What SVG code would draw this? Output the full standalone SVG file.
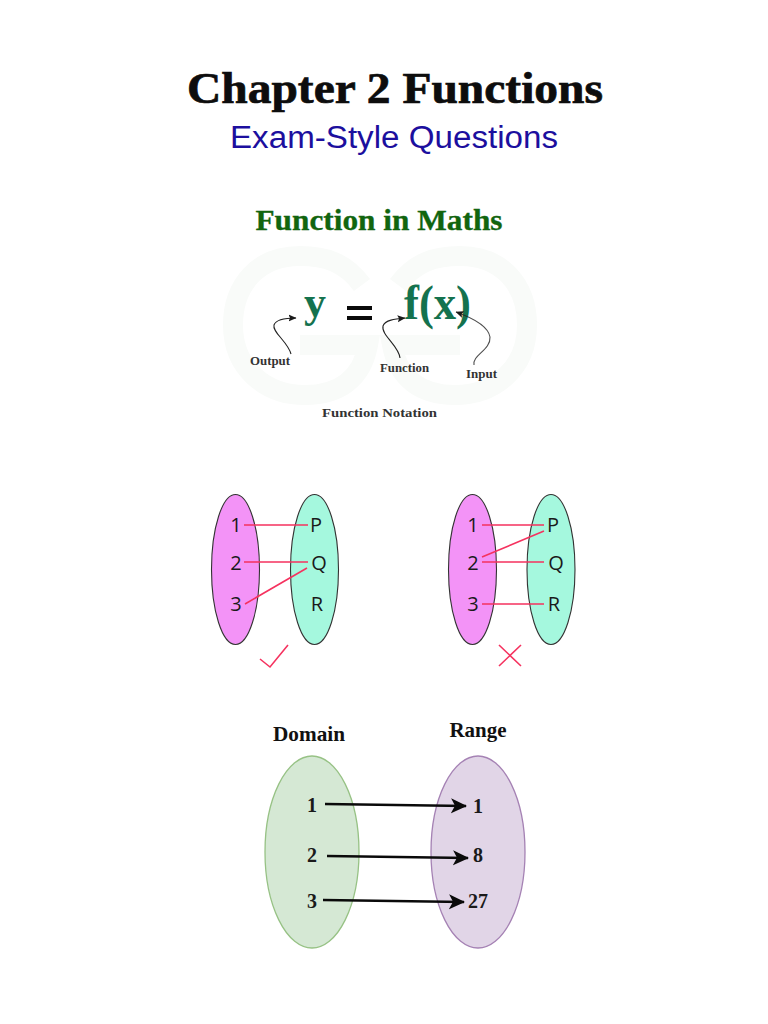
<svg xmlns="http://www.w3.org/2000/svg" width="768" height="1024" viewBox="0 0 768 1024">
<defs>
<marker id="bh" markerUnits="userSpaceOnUse" viewBox="0 0 16 16" refX="15" refY="8" markerWidth="16" markerHeight="16" orient="auto"><path d="M0 0.5L16 8L0 15.5L4 8Z" fill="#0a0a0a"/></marker>
<marker id="sh" markerUnits="userSpaceOnUse" viewBox="0 0 8 8" refX="7.5" refY="4" markerWidth="8" markerHeight="8" orient="auto"><path d="M0 0.5L8 4L0 7.5L1.5 4Z" fill="#1a1a1a"/></marker>
</defs>
<style>
.serif{font-family:"Liberation Serif","Times New Roman",serif;font-weight:bold}
.lab{font-size:12.5px;fill:#333}
.eq{fill:#14724e}
.map{font-family:"Open Sans","Noto Sans",sans-serif;font-size:20px;fill:#1a1a1a;text-anchor:middle}
.pink{fill:#f393f7;stroke:#333;stroke-width:1.1}
.aqua{fill:#a5f8de;stroke:#333;stroke-width:1.1}
.red{stroke:#f5325f;stroke-width:1.6;fill:none}
.num{font-size:20px;fill:#1a1a1a;text-anchor:middle}
.wm{fill:none;stroke:#f9fbf9;stroke-width:20}
.cur{fill:none;stroke:#222;stroke-width:1.1}
</style>
<rect width="768" height="1024" fill="#fff"/>
<g id="title">
<text class="serif" x="395" y="103" font-size="44" fill="#0d0d0d" stroke="#0d0d0d" stroke-width="0.7" text-anchor="middle" textLength="416" lengthAdjust="spacingAndGlyphs">Chapter 2 Functions</text>
<text x="394" y="148" font-family="Liberation Sans,Arial,sans-serif" font-size="31" fill="#1c0f9e" text-anchor="middle" textLength="328" lengthAdjust="spacingAndGlyphs">Exam-Style Questions</text>
</g>
<g id="notation">
<path class="wm" d="M362 285C345 262 325 256 300 256C258 256 233 285 233 325C233 368 265 395 305 395C340 395 362 378 368 345L300 345"/>
<path class="wm" d="M398 285C415 262 435 256 460 256C502 256 527 285 527 325C527 368 495 395 455 395C420 395 398 378 392 345L460 345"/>
<text class="serif" x="379" y="230" font-size="29" fill="#11650f" stroke="#11650f" stroke-width="0.3" text-anchor="middle" textLength="247" lengthAdjust="spacingAndGlyphs">Function in Maths</text>
<text class="serif eq" x="315" y="317" font-size="44" text-anchor="middle">y</text>
<rect x="347" y="306" width="25" height="4" fill="#0a0a0a"/>
<rect x="347" y="316" width="25" height="4" fill="#0a0a0a"/>
<text class="serif eq" x="404" y="319" textLength="67" lengthAdjust="spacingAndGlyphs" font-size="48">f(x)</text>
<path class="cur" marker-end="url(#sh)" d="M291 354C288 342 272 332 274 325C276 319 285 318 296 318"/>
<path class="cur" marker-end="url(#sh)" d="M400 358C399 346 381 335 383 326C385 320 395 319 405 318"/>
<path class="cur" stroke-opacity="0.8" marker-end="url(#sh)" d="M474 365C472 355 491 350 490 337C488 325 470 317 456 312"/>
<text class="serif lab" x="250" y="365" textLength="40" lengthAdjust="spacingAndGlyphs">Output</text>
<text class="serif lab" x="380" y="372" textLength="49" lengthAdjust="spacingAndGlyphs">Function</text>
<text class="serif lab" x="466" y="378" textLength="31" lengthAdjust="spacingAndGlyphs">Input</text>
<text class="serif" x="322" y="417" font-size="13" fill="#333" textLength="115" lengthAdjust="spacingAndGlyphs">Function Notation</text>
</g>
<g id="map-valid">
<ellipse class="pink" cx="235.500" cy="569.500" rx="24" ry="75"/>
<ellipse class="aqua" cx="314.500" cy="569.500" rx="24" ry="75"/>
<path class="red" d="M244 525H308M244 562H308M245 604L307 568"/>
<path class="red" d="M260 659L270 667L288 645"/>
<text class="map" x="236" y="532">1</text><text class="map" x="236" y="570">2</text><text class="map" x="236" y="611">3</text>
<text class="map" x="316" y="532">P</text><text class="map" x="319" y="570">Q</text><text class="map" x="317" y="611">R</text>
</g>
<g id="map-invalid">
<ellipse class="pink" cx="472.500" cy="569.500" rx="24" ry="75"/>
<ellipse class="aqua" cx="551" cy="569.500" rx="24" ry="75"/>
<path class="red" d="M482 525H544M482 557L544 531M482 562H544M482 604H544"/>
<path class="red" d="M499 645L521 666M521 645L499 666"/>
<text class="map" x="473" y="532">1</text><text class="map" x="473" y="570">2</text><text class="map" x="473" y="611">3</text>
<text class="map" x="553" y="532">P</text><text class="map" x="556" y="570">Q</text><text class="map" x="554" y="611">R</text>
</g>
<g id="domain">
<ellipse cx="312" cy="852" rx="47" ry="96" fill="#d5e8d4" stroke="#97c285" stroke-width="1.3"/>
<text class="serif" x="309" y="741" font-size="21" fill="#111" text-anchor="middle" textLength="72" lengthAdjust="spacingAndGlyphs">Domain</text>
<text class="serif num" x="312" y="812">1</text><text class="serif num" x="312" y="862">2</text><text class="serif num" x="312" y="908">3</text>
</g>
<g id="range">
<ellipse cx="478" cy="852" rx="47" ry="96" fill="#e1d5e7" stroke="#a582b4" stroke-width="1.3"/>
<text class="serif" x="478" y="737" font-size="21" fill="#111" text-anchor="middle" textLength="57" lengthAdjust="spacingAndGlyphs">Range</text>
<text class="serif num" x="478" y="813">1</text><text class="serif num" x="478" y="862">8</text><text class="serif num" x="478" y="908">27</text>
</g>
<g id="connectors" stroke="#0a0a0a" stroke-width="2.6" fill="none">
<path marker-end="url(#bh)" d="M325 804L466 806"/>
<path marker-end="url(#bh)" d="M327 856L468 858"/>
<path marker-end="url(#bh)" d="M323 900L464 902"/>
</g>
</svg>
